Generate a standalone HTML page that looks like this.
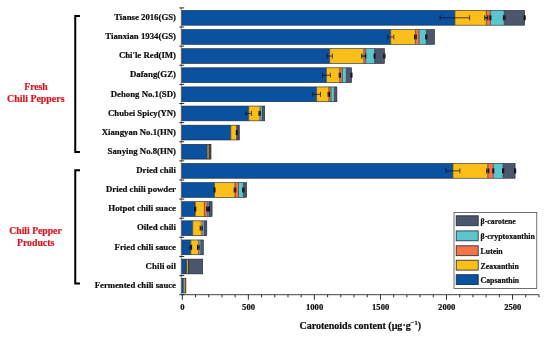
<!DOCTYPE html>
<html><head><meta charset="utf-8"><title>Carotenoids content</title>
<style>html,body{margin:0;padding:0;background:#fff}svg{display:block}text{font-family:"Liberation Serif","DejaVu Serif",serif;font-weight:bold;fill:#0c0c0c;stroke:#0c0c0c;stroke-width:0.2px}</style>
</head><body>
<svg width="550" height="341" viewBox="0 0 550 341">
<rect width="550" height="341" fill="#fff"/>
<rect x="181.90" y="10.40" width="273.00" height="14.80" fill="#0a519f"/>
<rect x="454.90" y="10.40" width="31.40" height="14.80" fill="#fcbe18"/>
<rect x="486.30" y="10.40" width="4.10" height="14.80" fill="#f37446"/>
<rect x="490.40" y="10.40" width="13.80" height="14.80" fill="#5cc6cc"/>
<rect x="504.20" y="10.40" width="20.40" height="14.80" fill="#4c566d"/>
<path d="M454.90 10.40v14.80" stroke="#1c2433" stroke-width="0.6" fill="none"/>
<path d="M486.30 10.40v14.80" stroke="#1c2433" stroke-width="0.6" fill="none"/>
<path d="M490.40 10.40v14.80" stroke="#1c2433" stroke-width="0.6" fill="none"/>
<path d="M504.20 10.40v14.80" stroke="#1c2433" stroke-width="0.6" fill="none"/>
<rect x="181.90" y="10.40" width="342.70" height="14.80" fill="none" stroke="#1c2433" stroke-width="0.6"/>
<path d="M440.20 17.80H469.60M440.20 15.30V20.30M469.60 15.30V20.30" stroke="#0a0a14" stroke-width="0.7" fill="none"/>
<path d="M484.80 17.80H487.80M484.80 15.30V20.30M487.80 15.30V20.30" stroke="#0a0a14" stroke-width="1.0" fill="none"/>
<path d="M489.90 17.80H490.90M489.90 15.30V20.30M490.90 15.30V20.30" stroke="#0a0a14" stroke-width="1.0" fill="none"/>
<path d="M503.40 17.80H505.00M503.40 15.30V20.30M505.00 15.30V20.30" stroke="#0a0a14" stroke-width="1.0" fill="none"/>
<path d="M524.00 17.80H525.20M524.00 15.30V20.30M525.20 15.30V20.30" stroke="#0a0a14" stroke-width="1.0" fill="none"/>
<rect x="181.90" y="29.53" width="208.80" height="14.80" fill="#0a519f"/>
<rect x="390.70" y="29.53" width="24.70" height="14.80" fill="#fcbe18"/>
<rect x="415.40" y="29.53" width="3.70" height="14.80" fill="#f37446"/>
<rect x="419.10" y="29.53" width="7.20" height="14.80" fill="#5cc6cc"/>
<rect x="426.30" y="29.53" width="8.20" height="14.80" fill="#4c566d"/>
<path d="M390.70 29.53v14.80" stroke="#1c2433" stroke-width="0.6" fill="none"/>
<path d="M415.40 29.53v14.80" stroke="#1c2433" stroke-width="0.6" fill="none"/>
<path d="M419.10 29.53v14.80" stroke="#1c2433" stroke-width="0.6" fill="none"/>
<path d="M426.30 29.53v14.80" stroke="#1c2433" stroke-width="0.6" fill="none"/>
<rect x="181.90" y="29.53" width="252.60" height="14.80" fill="none" stroke="#1c2433" stroke-width="0.6"/>
<path d="M387.60 36.93H393.80M387.60 34.43V39.43M393.80 34.43V39.43" stroke="#0a0a14" stroke-width="0.7" fill="none"/>
<path d="M414.60 36.93H416.20M414.60 34.43V39.43M416.20 34.43V39.43" stroke="#0a0a14" stroke-width="1.0" fill="none"/>
<path d="M425.70 36.93H426.90M425.70 34.43V39.43M426.90 34.43V39.43" stroke="#0a0a14" stroke-width="1.0" fill="none"/>
<rect x="181.90" y="48.66" width="147.80" height="14.80" fill="#0a519f"/>
<rect x="329.70" y="48.66" width="34.10" height="14.80" fill="#fcbe18"/>
<rect x="363.80" y="48.66" width="1.90" height="14.80" fill="#f37446"/>
<rect x="365.70" y="48.66" width="8.90" height="14.80" fill="#5cc6cc"/>
<rect x="374.60" y="48.66" width="9.80" height="14.80" fill="#4c566d"/>
<path d="M329.70 48.66v14.80" stroke="#1c2433" stroke-width="0.6" fill="none"/>
<path d="M363.80 48.66v14.80" stroke="#1c2433" stroke-width="0.6" fill="none"/>
<path d="M365.70 48.66v14.80" stroke="#1c2433" stroke-width="0.6" fill="none"/>
<path d="M374.60 48.66v14.80" stroke="#1c2433" stroke-width="0.6" fill="none"/>
<rect x="181.90" y="48.66" width="202.50" height="14.80" fill="none" stroke="#1c2433" stroke-width="0.6"/>
<path d="M327.00 56.06H332.40M327.00 53.56V58.56M332.40 53.56V58.56" stroke="#0a0a14" stroke-width="0.7" fill="none"/>
<path d="M361.80 56.06H365.80M361.80 53.56V58.56M365.80 53.56V58.56" stroke="#0a0a14" stroke-width="1.0" fill="none"/>
<path d="M374.10 56.06H375.10M374.10 53.56V58.56M375.10 53.56V58.56" stroke="#0a0a14" stroke-width="1.0" fill="none"/>
<path d="M383.80 56.06H385.00M383.80 53.56V58.56M385.00 53.56V58.56" stroke="#0a0a14" stroke-width="1.0" fill="none"/>
<rect x="181.90" y="67.79" width="144.50" height="14.80" fill="#0a519f"/>
<rect x="326.40" y="67.79" width="13.40" height="14.80" fill="#fcbe18"/>
<rect x="339.80" y="67.79" width="2.60" height="14.80" fill="#f37446"/>
<rect x="342.40" y="67.79" width="3.90" height="14.80" fill="#5cc6cc"/>
<rect x="346.30" y="67.79" width="5.20" height="14.80" fill="#4c566d"/>
<path d="M326.40 67.79v14.80" stroke="#1c2433" stroke-width="0.6" fill="none"/>
<path d="M339.80 67.79v14.80" stroke="#1c2433" stroke-width="0.6" fill="none"/>
<path d="M342.40 67.79v14.80" stroke="#1c2433" stroke-width="0.6" fill="none"/>
<path d="M346.30 67.79v14.80" stroke="#1c2433" stroke-width="0.6" fill="none"/>
<rect x="181.90" y="67.79" width="169.60" height="14.80" fill="none" stroke="#1c2433" stroke-width="0.6"/>
<path d="M322.50 75.19H330.30M322.50 72.69V77.69M330.30 72.69V77.69" stroke="#0a0a14" stroke-width="0.7" fill="none"/>
<path d="M339.20 75.19H340.40M339.20 72.69V77.69M340.40 72.69V77.69" stroke="#0a0a14" stroke-width="1.0" fill="none"/>
<path d="M351.00 75.19H352.00M351.00 72.69V77.69M352.00 72.69V77.69" stroke="#0a0a14" stroke-width="1.0" fill="none"/>
<rect x="181.90" y="86.92" width="134.70" height="14.80" fill="#0a519f"/>
<rect x="316.60" y="86.92" width="12.20" height="14.80" fill="#fcbe18"/>
<rect x="328.80" y="86.92" width="2.20" height="14.80" fill="#f37446"/>
<rect x="331.00" y="86.92" width="3.30" height="14.80" fill="#5cc6cc"/>
<rect x="334.30" y="86.92" width="2.60" height="14.80" fill="#4c566d"/>
<path d="M316.60 86.92v14.80" stroke="#1c2433" stroke-width="0.6" fill="none"/>
<path d="M328.80 86.92v14.80" stroke="#1c2433" stroke-width="0.6" fill="none"/>
<path d="M331.00 86.92v14.80" stroke="#1c2433" stroke-width="0.6" fill="none"/>
<path d="M334.30 86.92v14.80" stroke="#1c2433" stroke-width="0.6" fill="none"/>
<rect x="181.90" y="86.92" width="155.00" height="14.80" fill="none" stroke="#1c2433" stroke-width="0.6"/>
<path d="M312.70 94.32H320.50M312.70 91.82V96.82M320.50 91.82V96.82" stroke="#0a0a14" stroke-width="0.7" fill="none"/>
<path d="M328.10 94.32H329.50M328.10 91.82V96.82M329.50 91.82V96.82" stroke="#0a0a14" stroke-width="1.0" fill="none"/>
<rect x="181.90" y="106.05" width="66.80" height="14.80" fill="#0a519f"/>
<rect x="248.70" y="106.05" width="10.90" height="14.80" fill="#fcbe18"/>
<rect x="259.60" y="106.05" width="0.90" height="14.80" fill="#f37446"/>
<rect x="260.50" y="106.05" width="1.50" height="14.80" fill="#5cc6cc"/>
<rect x="262.00" y="106.05" width="2.70" height="14.80" fill="#4c566d"/>
<path d="M248.70 106.05v14.80" stroke="#1c2433" stroke-width="0.6" fill="none"/>
<path d="M259.60 106.05v14.80" stroke="#1c2433" stroke-width="0.35" fill="none"/>
<path d="M260.50 106.05v14.80" stroke="#1c2433" stroke-width="0.35" fill="none"/>
<path d="M262.00 106.05v14.80" stroke="#1c2433" stroke-width="0.35" fill="none"/>
<rect x="181.90" y="106.05" width="82.80" height="14.80" fill="none" stroke="#1c2433" stroke-width="0.6"/>
<path d="M246.00 113.45H251.40M246.00 110.95V115.95M251.40 110.95V115.95" stroke="#0a0a14" stroke-width="0.7" fill="none"/>
<path d="M259.00 113.45H260.20M259.00 110.95V115.95M260.20 110.95V115.95" stroke="#0a0a14" stroke-width="1.0" fill="none"/>
<rect x="181.90" y="125.18" width="48.90" height="14.80" fill="#0a519f"/>
<rect x="230.80" y="125.18" width="5.90" height="14.80" fill="#fcbe18"/>
<rect x="236.70" y="125.18" width="0.50" height="14.80" fill="#f37446"/>
<rect x="237.20" y="125.18" width="0.60" height="14.80" fill="#5cc6cc"/>
<rect x="237.80" y="125.18" width="1.50" height="14.80" fill="#4c566d"/>
<path d="M230.80 125.18v14.80" stroke="#1c2433" stroke-width="0.6" fill="none"/>
<path d="M236.70 125.18v14.80" stroke="#1c2433" stroke-width="0.6" fill="none"/>
<path d="M237.20 125.18v14.80" stroke="#1c2433" stroke-width="0.6" fill="none"/>
<path d="M237.80 125.18v14.80" stroke="#1c2433" stroke-width="0.6" fill="none"/>
<rect x="181.90" y="125.18" width="57.40" height="14.80" fill="none" stroke="#1c2433" stroke-width="0.6"/>
<path d="M236.30 132.58H237.10M236.30 130.08V135.08M237.10 130.08V135.08" stroke="#0a0a14" stroke-width="1.0" fill="none"/>
<rect x="181.90" y="144.31" width="25.40" height="14.80" fill="#0a519f"/>
<rect x="207.30" y="144.31" width="1.70" height="14.80" fill="#fcbe18"/>
<rect x="209.00" y="144.31" width="0.30" height="14.80" fill="#f37446"/>
<rect x="209.30" y="144.31" width="0.40" height="14.80" fill="#5cc6cc"/>
<rect x="209.70" y="144.31" width="1.30" height="14.80" fill="#4c566d"/>
<path d="M207.30 144.31v14.80" stroke="#1c2433" stroke-width="0.6" fill="none"/>
<path d="M209.00 144.31v14.80" stroke="#1c2433" stroke-width="0.6" fill="none"/>
<path d="M209.30 144.31v14.80" stroke="#1c2433" stroke-width="0.6" fill="none"/>
<path d="M209.70 144.31v14.80" stroke="#1c2433" stroke-width="0.6" fill="none"/>
<rect x="181.90" y="144.31" width="29.10" height="14.80" fill="none" stroke="#1c2433" stroke-width="0.6"/>
<rect x="181.90" y="163.44" width="271.00" height="14.80" fill="#0a519f"/>
<rect x="452.90" y="163.44" width="34.90" height="14.80" fill="#fcbe18"/>
<rect x="487.80" y="163.44" width="5.50" height="14.80" fill="#f37446"/>
<rect x="493.30" y="163.44" width="9.80" height="14.80" fill="#5cc6cc"/>
<rect x="503.10" y="163.44" width="12.00" height="14.80" fill="#4c566d"/>
<path d="M452.90 163.44v14.80" stroke="#1c2433" stroke-width="0.6" fill="none"/>
<path d="M487.80 163.44v14.80" stroke="#1c2433" stroke-width="0.6" fill="none"/>
<path d="M493.30 163.44v14.80" stroke="#1c2433" stroke-width="0.6" fill="none"/>
<path d="M503.10 163.44v14.80" stroke="#1c2433" stroke-width="0.6" fill="none"/>
<rect x="181.90" y="163.44" width="333.20" height="14.80" fill="none" stroke="#1c2433" stroke-width="0.6"/>
<path d="M445.90 170.84H459.90M445.90 168.34V173.34M459.90 168.34V173.34" stroke="#0a0a14" stroke-width="0.7" fill="none"/>
<path d="M486.80 170.84H488.80M486.80 168.34V173.34M488.80 168.34V173.34" stroke="#0a0a14" stroke-width="1.0" fill="none"/>
<path d="M492.80 170.84H493.80M492.80 168.34V173.34M493.80 168.34V173.34" stroke="#0a0a14" stroke-width="1.0" fill="none"/>
<path d="M502.50 170.84H503.70M502.50 168.34V173.34M503.70 168.34V173.34" stroke="#0a0a14" stroke-width="1.0" fill="none"/>
<path d="M514.50 170.84H515.70M514.50 168.34V173.34M515.70 168.34V173.34" stroke="#0a0a14" stroke-width="1.0" fill="none"/>
<rect x="181.90" y="182.57" width="32.60" height="14.80" fill="#0a519f"/>
<rect x="214.50" y="182.57" width="20.50" height="14.80" fill="#fcbe18"/>
<rect x="235.00" y="182.57" width="3.50" height="14.80" fill="#f37446"/>
<rect x="238.50" y="182.57" width="4.80" height="14.80" fill="#5cc6cc"/>
<rect x="243.30" y="182.57" width="3.30" height="14.80" fill="#4c566d"/>
<path d="M214.50 182.57v14.80" stroke="#1c2433" stroke-width="0.6" fill="none"/>
<path d="M235.00 182.57v14.80" stroke="#1c2433" stroke-width="0.6" fill="none"/>
<path d="M238.50 182.57v14.80" stroke="#1c2433" stroke-width="0.6" fill="none"/>
<path d="M243.30 182.57v14.80" stroke="#1c2433" stroke-width="0.6" fill="none"/>
<rect x="181.90" y="182.57" width="64.70" height="14.80" fill="none" stroke="#1c2433" stroke-width="0.6"/>
<path d="M214.00 189.97H215.00M214.00 187.47V192.47M215.00 187.47V192.47" stroke="#0a0a14" stroke-width="1.0" fill="none"/>
<path d="M234.20 189.97H235.80M234.20 187.47V192.47M235.80 187.47V192.47" stroke="#0a0a14" stroke-width="1.0" fill="none"/>
<path d="M242.60 189.97H244.00M242.60 187.47V192.47M244.00 187.47V192.47" stroke="#0a0a14" stroke-width="1.0" fill="none"/>
<rect x="181.90" y="201.70" width="13.40" height="14.80" fill="#0a519f"/>
<rect x="195.30" y="201.70" width="9.10" height="14.80" fill="#fcbe18"/>
<rect x="204.40" y="201.70" width="2.90" height="14.80" fill="#f37446"/>
<rect x="207.30" y="201.70" width="1.70" height="14.80" fill="#5cc6cc"/>
<rect x="209.00" y="201.70" width="3.10" height="14.80" fill="#4c566d"/>
<path d="M195.30 201.70v14.80" stroke="#1c2433" stroke-width="0.6" fill="none"/>
<path d="M204.40 201.70v14.80" stroke="#1c2433" stroke-width="0.6" fill="none"/>
<path d="M207.30 201.70v14.80" stroke="#1c2433" stroke-width="0.6" fill="none"/>
<path d="M209.00 201.70v14.80" stroke="#1c2433" stroke-width="0.6" fill="none"/>
<rect x="181.90" y="201.70" width="30.20" height="14.80" fill="none" stroke="#1c2433" stroke-width="0.6"/>
<path d="M194.80 209.10H195.80M194.80 206.60V211.60M195.80 206.60V211.60" stroke="#0a0a14" stroke-width="1.0" fill="none"/>
<path d="M206.80 209.10H207.80M206.80 206.60V211.60M207.80 206.60V211.60" stroke="#0a0a14" stroke-width="1.0" fill="none"/>
<path d="M208.70 209.10H209.30M208.70 206.60V211.60M209.30 206.60V211.60" stroke="#0a0a14" stroke-width="1.0" fill="none"/>
<rect x="181.90" y="220.83" width="10.80" height="14.80" fill="#0a519f"/>
<rect x="192.70" y="220.83" width="8.50" height="14.80" fill="#fcbe18"/>
<rect x="201.20" y="220.83" width="1.30" height="14.80" fill="#f37446"/>
<rect x="202.50" y="220.83" width="1.50" height="14.80" fill="#5cc6cc"/>
<rect x="204.00" y="220.83" width="2.80" height="14.80" fill="#4c566d"/>
<path d="M192.70 220.83v14.80" stroke="#1c2433" stroke-width="0.6" fill="none"/>
<path d="M201.20 220.83v14.80" stroke="#1c2433" stroke-width="0.35" fill="none"/>
<path d="M202.50 220.83v14.80" stroke="#1c2433" stroke-width="0.35" fill="none"/>
<path d="M204.00 220.83v14.80" stroke="#1c2433" stroke-width="0.35" fill="none"/>
<rect x="181.90" y="220.83" width="24.90" height="14.80" fill="none" stroke="#1c2433" stroke-width="0.6"/>
<path d="M200.20 228.23H202.20M200.20 225.73V230.73M202.20 225.73V230.73" stroke="#0a0a14" stroke-width="1.0" fill="none"/>
<rect x="181.90" y="239.96" width="8.90" height="14.80" fill="#0a519f"/>
<rect x="190.80" y="239.96" width="7.50" height="14.80" fill="#fcbe18"/>
<rect x="198.30" y="239.96" width="0.70" height="14.80" fill="#f37446"/>
<rect x="199.00" y="239.96" width="1.50" height="14.80" fill="#5cc6cc"/>
<rect x="200.50" y="239.96" width="2.80" height="14.80" fill="#4c566d"/>
<path d="M190.80 239.96v14.80" stroke="#1c2433" stroke-width="0.6" fill="none"/>
<path d="M198.30 239.96v14.80" stroke="#1c2433" stroke-width="0.35" fill="none"/>
<path d="M199.00 239.96v14.80" stroke="#1c2433" stroke-width="0.35" fill="none"/>
<path d="M200.50 239.96v14.80" stroke="#1c2433" stroke-width="0.35" fill="none"/>
<rect x="181.90" y="239.96" width="21.40" height="14.80" fill="none" stroke="#1c2433" stroke-width="0.6"/>
<path d="M190.00 247.36H191.60M190.00 244.86V249.86M191.60 244.86V249.86" stroke="#0a0a14" stroke-width="1.0" fill="none"/>
<path d="M197.50 247.36H199.10M197.50 244.86V249.86M199.10 244.86V249.86" stroke="#0a0a14" stroke-width="1.0" fill="none"/>
<rect x="181.90" y="259.09" width="4.40" height="14.80" fill="#0a519f"/>
<rect x="186.30" y="259.09" width="2.00" height="14.80" fill="#fcbe18"/>
<rect x="188.30" y="259.09" width="0.20" height="14.80" fill="#f37446"/>
<rect x="188.50" y="259.09" width="0.20" height="14.80" fill="#5cc6cc"/>
<rect x="188.70" y="259.09" width="14.00" height="14.80" fill="#4c566d"/>
<path d="M186.30 259.09v14.80" stroke="#1c2433" stroke-width="0.9" fill="none"/>
<path d="M188.30 259.09v14.80" stroke="#1c2433" stroke-width="0.9" fill="none"/>
<path d="M188.70 259.09v14.80" stroke="#1c2433" stroke-width="0.35" fill="none"/>
<rect x="181.90" y="259.09" width="20.80" height="14.80" fill="none" stroke="#1c2433" stroke-width="0.6"/>
<rect x="181.90" y="278.22" width="1.90" height="14.80" fill="#0a519f"/>
<rect x="183.80" y="278.22" width="1.20" height="14.80" fill="#fcbe18"/>
<rect x="185.00" y="278.22" width="0.10" height="14.80" fill="#f37446"/>
<rect x="185.10" y="278.22" width="0.10" height="14.80" fill="#5cc6cc"/>
<rect x="185.20" y="278.22" width="0.70" height="14.80" fill="#4c566d"/>
<path d="M183.80 278.22v14.80" stroke="#1c2433" stroke-width="0.35" fill="none"/>
<path d="M185.00 278.22v14.80" stroke="#1c2433" stroke-width="0.35" fill="none"/>
<rect x="181.90" y="278.22" width="4.00" height="14.80" fill="none" stroke="#1c2433" stroke-width="0.6"/>
<path d="M181.3 7.9V294.7" stroke="#444" stroke-width="0.7" fill="none"/>
<path d="M181.3 294.7H538.9" stroke="#2a2a2a" stroke-width="0.9" fill="none"/>
<path d="M179.3 7.90H184.2M179.3 27.02H184.2M179.3 46.14H184.2M179.3 65.26H184.2M179.3 84.38H184.2M179.3 103.50H184.2M179.3 122.62H184.2M179.3 141.74H184.2M179.3 160.86H184.2M179.3 179.98H184.2M179.3 199.10H184.2M179.3 218.22H184.2M179.3 237.34H184.2M179.3 256.46H184.2M179.3 275.58H184.2M179.3 294.70H184.2" stroke="#222" stroke-width="0.95" fill="none"/>
<path d="M182.30 294.7v5M195.51 294.7v2.6M208.72 294.7v2.6M221.93 294.7v2.6M235.14 294.7v2.6M248.35 294.7v5M261.56 294.7v2.6M274.77 294.7v2.6M287.98 294.7v2.6M301.19 294.7v2.6M314.40 294.7v5M327.61 294.7v2.6M340.82 294.7v2.6M354.03 294.7v2.6M367.24 294.7v2.6M380.45 294.7v5M393.66 294.7v2.6M406.87 294.7v2.6M420.08 294.7v2.6M433.29 294.7v2.6M446.50 294.7v5M459.71 294.7v2.6M472.92 294.7v2.6M486.13 294.7v2.6M499.34 294.7v2.6M512.55 294.7v5M525.76 294.7v2.6M538.97 294.7v2.6" stroke="#222" stroke-width="0.95" fill="none"/>
<text x="182.50" y="309.9" font-size="8.6" text-anchor="middle">0</text>
<text x="248.55" y="309.9" font-size="8.6" text-anchor="middle">500</text>
<text x="314.60" y="309.9" font-size="8.6" text-anchor="middle">1000</text>
<text x="380.65" y="309.9" font-size="8.6" text-anchor="middle">1500</text>
<text x="446.70" y="309.9" font-size="8.6" text-anchor="middle">2000</text>
<text x="512.75" y="309.9" font-size="8.6" text-anchor="middle">2500</text>
<text x="114.2" y="20.05" font-size="8.75" textLength="61.8" lengthAdjust="spacingAndGlyphs">Tianse 2016(GS)</text>
<text x="105.3" y="39.18" font-size="8.75" textLength="70.7" lengthAdjust="spacingAndGlyphs">Tianxian 1934(GS)</text>
<text x="118.9" y="58.31" font-size="8.75" textLength="57.1" lengthAdjust="spacingAndGlyphs">Chi'le Red(IM)</text>
<text x="129.9" y="77.44" font-size="8.75" textLength="46.1" lengthAdjust="spacingAndGlyphs">Dafang(GZ)</text>
<text x="110.7" y="96.57" font-size="8.75" textLength="65.3" lengthAdjust="spacingAndGlyphs">Dehong No.1(SD)</text>
<text x="108.1" y="115.70" font-size="8.75" textLength="67.9" lengthAdjust="spacingAndGlyphs">Chubei Spicy(YN)</text>
<text x="101.7" y="134.83" font-size="8.75" textLength="74.3" lengthAdjust="spacingAndGlyphs">Xiangyan No.1(HN)</text>
<text x="107.6" y="153.96" font-size="8.75" textLength="68.4" lengthAdjust="spacingAndGlyphs">Sanying No.8(HN)</text>
<text x="136.2" y="173.09" font-size="8.75" textLength="39.8" lengthAdjust="spacingAndGlyphs">Dried chili</text>
<text x="106.0" y="192.22" font-size="8.75" textLength="70.0" lengthAdjust="spacingAndGlyphs">Dried chili powder</text>
<text x="108.3" y="211.35" font-size="8.75" textLength="67.7" lengthAdjust="spacingAndGlyphs">Hotpot chili suace</text>
<text x="137.0" y="230.48" font-size="8.75" textLength="39.0" lengthAdjust="spacingAndGlyphs">Oiled chili</text>
<text x="114.6" y="249.61" font-size="8.75" textLength="61.4" lengthAdjust="spacingAndGlyphs">Fried chili sauce</text>
<text x="145.6" y="268.74" font-size="8.75" textLength="30.4" lengthAdjust="spacingAndGlyphs">Chili oil</text>
<text x="94.7" y="287.87" font-size="8.75" textLength="81.3" lengthAdjust="spacingAndGlyphs">Fermented chili sauce</text>
<text x="299.4" y="328.5" font-size="10" textLength="121.7" lengthAdjust="spacingAndGlyphs">Carotenoids content (μg·g<tspan font-size="6.5" dy="-4">−1</tspan><tspan dy="4">)</tspan></text>
<g fill="#d7191c" style="fill:#d9141e;stroke:#d9141e">
<text x="36" y="90.3" font-size="9.7" text-anchor="middle" style="fill:#d9141e;stroke:#d9141e">Fresh</text>
<text x="7.1" y="102" font-size="9.6" textLength="57.4" lengthAdjust="spacingAndGlyphs" style="fill:#d9141e;stroke:#d9141e">Chili Peppers</text>
<text x="35.5" y="233.6" font-size="9.7" text-anchor="middle" style="fill:#d9141e;stroke:#d9141e">Chili Pepper</text>
<text x="35.6" y="246.1" font-size="9.8" text-anchor="middle" style="fill:#d9141e;stroke:#d9141e">Products</text>
</g>
<path d="M80 16H75.25V151.9H80" stroke="#000" stroke-width="2" fill="none"/>
<path d="M80 170.2H75.25V283.4H80" stroke="#000" stroke-width="2" fill="none"/>
<rect x="454.0" y="212.4" width="82.8" height="76.0" fill="#fff" stroke="#333" stroke-width="0.7"/>
<rect x="456.2" y="215.80" width="22" height="9.9" fill="#4c566d" stroke="#1c2433" stroke-width="0.8"/>
<text x="480.6" y="224.10" font-size="7.8">β-carotene</text>
<rect x="456.2" y="230.90" width="22" height="9.9" fill="#5cc6cc" stroke="#1c2433" stroke-width="0.8"/>
<text x="480.6" y="239.20" font-size="7.8" textLength="54.3" lengthAdjust="spacingAndGlyphs">β-cryptoxanthin</text>
<rect x="456.2" y="245.80" width="22" height="9.9" fill="#f37446" stroke="#1c2433" stroke-width="0.8"/>
<text x="480.6" y="254.10" font-size="7.8">Lutein</text>
<rect x="456.2" y="260.20" width="22" height="9.9" fill="#fcbe18" stroke="#1c2433" stroke-width="0.8"/>
<text x="480.6" y="268.50" font-size="7.8">Zeaxanthin</text>
<rect x="456.2" y="274.70" width="22" height="9.9" fill="#0a519f" stroke="#1c2433" stroke-width="0.8"/>
<text x="480.6" y="283.00" font-size="7.8">Capsanthin</text>
</svg>
</body></html>
